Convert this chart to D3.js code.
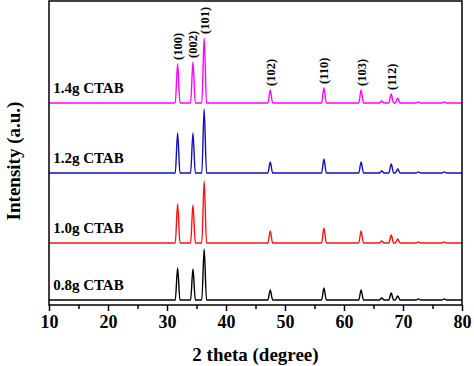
<!DOCTYPE html>
<html lang="en">
<head>
<meta charset="utf-8">
<title>XRD patterns CTAB</title>
<script src="https://cdn.jsdelivr.net/npm/d3@7"></script>
<style>
  body { margin: 0; background: #fff; }
  text { font-family: "Times New Roman", "Liberation Serif", serif; font-weight: bold; fill: #000; }
  .tick text { font-size: 18px; }
  .axis path, .axis line { stroke: #000; stroke-width: 1.5px; }
  .sample { font-size: 15px; }
  .hkl { font-size: 12.5px; }
  .title { font-size: 19px; }
</style>
</head>
<body>
<script>
var w = 474, h = 366;
var padL = 49, padR = 462, padT = 1, padB = 305;

// peak positions (2 theta)
var peaks = [31.8, 34.4, 36.3, 47.5, 56.6, 62.9, 66.4, 68.0, 69.1, 72.6, 77.0];
var hkl = ["(100)", "(002)", "(101)", "(102)", "(110)", "(103)", null, "(112)", null, null, null];

var samples = ["0.8g CTAB", "1.0g CTAB", "1.2g CTAB", "1.4g CTAB"];
var colors = ["#000000", "#ff1010", "#1010b4", "#ff00ff"];
var offsets = [5, 62, 132, 202];

// peak heights (a.u.) per sample
var h08 = [32, 31, 51, 10, 12, 10, 2, 7, 4, 1, 1];
var h10 = [39, 38, 62, 12, 15, 12, 2, 8, 4, 1, 1];
var h12 = [40, 40, 64, 11, 14, 11, 2, 9, 4, 1, 1];
var h14 = [39, 41, 65, 13, 15, 13, 2, 9, 5, 1, 1];
var heights = [h08, h10, h12, h14];

var majorTicks = [10, 20, 30, 40, 50, 60, 70, 80];
var minorTicks = [15, 25, 35, 45, 55, 65, 75];

var x = d3.scaleLinear().domain([10, 80]).range([padL, padR]);
var y = d3.scaleLinear().domain([0, 304]).range([padB, padT]);

var svg = d3.select("body").append("svg").attr("width", w).attr("height", h);

var line = d3.line().x(function(d) { return x(d[0]); }).y(function(d) { return y(d[1]); })
             .curve(d3.curveMonotoneX);

samples.forEach(function(s, i) {
  var pts = [[10, offsets[i]]];
  peaks.forEach(function(p, k) {
    pts.push([p - 0.4, offsets[i]]);
    pts.push([p, offsets[i] + heights[i][k]]);
    pts.push([p + 0.4, offsets[i]]);
  });
  pts.push([80, offsets[i]]);
  svg.append("path").datum(pts).attr("d", line)
     .attr("fill", "none").attr("stroke", colors[i]).attr("stroke-width", 1.4);
});

// sample labels
svg.selectAll(".sample").data(samples).enter().append("text")
   .attr("class", "sample")
   .attr("x", x(10.7))
   .attr("y", function(d, i) { return y(offsets[i] + 10); })
   .text(function(d) { return d; });

// hkl labels above top pattern
peaks.forEach(function(p, k) {
  if (!hkl[k]) return;
  var yy = y(offsets[3] + h14[k] + 4);
  svg.append("text").attr("class", "hkl")
     .attr("transform", "translate(" + (x(p) + 4.5) + "," + yy + ") rotate(-90)")
     .text(hkl[k]);
});

// frame
svg.append("rect").attr("x", padL).attr("y", padT).attr("width", padR - padL).attr("height", padB - padT)
   .attr("fill", "none").attr("stroke", "#000").attr("stroke-width", 1.5);

svg.append("g").attr("class", "axis").attr("transform", "translate(0," + padB + ")")
   .call(d3.axisBottom(x).tickValues(majorTicks).tickSize(6).tickPadding(4).tickSizeOuter(0))
   .call(function(g) { g.select(".domain").remove(); });

svg.append("g").attr("class", "axis").attr("transform", "translate(0," + padB + ")")
   .call(d3.axisBottom(x).tickValues(minorTicks).tickSize(4).tickFormat(""))
   .call(function(g) { g.select(".domain").remove(); });

svg.append("text").attr("class", "title").attr("x", (padL + padR) / 2).attr("y", 361)
   .attr("text-anchor", "middle").text("2 theta (degree)");

svg.append("text").attr("class", "title")
   .attr("transform", "translate(20,161) rotate(-90)")
   .attr("text-anchor", "middle").text("Intensity (a.u.)");
</script>
</body>
</html>
